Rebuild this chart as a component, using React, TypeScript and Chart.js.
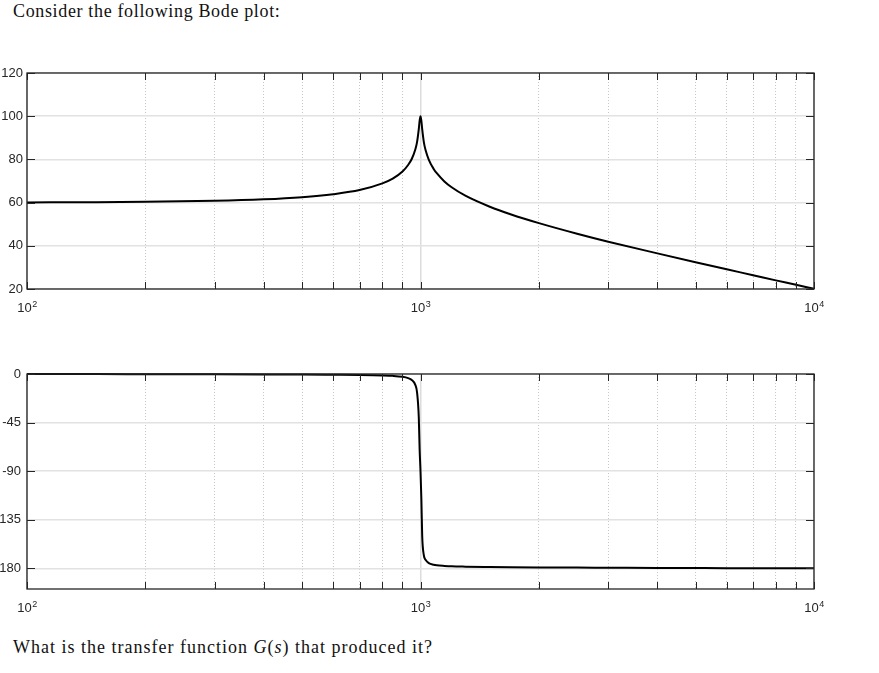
import { useEffect, useRef } from 'react'
import { Chart, registerables } from 'chart.js'

Chart.register(...registerables)

// frequency samples (rad/s)
const freqHz = [
  100, 150, 200, 300, 400, 500, 600, 700, 800, 850, 900, 930, 950, 970, 980, 990, 995, 1000, 1005, 1010,
  1020, 1030, 1050, 1080, 1100, 1150, 1200, 1300, 1500, 1700, 2000, 2500, 3000, 4000, 5000, 6000, 7000, 8000, 9000, 10000,
]
const magnitudeDb = [
  60.1, 60.2, 60.4, 60.8, 61.5, 62.5, 63.9, 65.8, 68.9, 71.1, 74.4, 77.4, 80.2, 84.6, 88.0, 94.0, 98.0, 100, 98.0, 94.0,
  87.9, 84.3, 79.8, 75.6, 73.6, 69.8, 67.1, 63.2, 58.1, 54.5, 50.5, 45.6, 41.9, 36.5, 32.4, 29.1, 26.4, 24.0, 22.0, 20.1,
]
const phaseDeg = [
  -0.1, -0.1, -0.2, -0.3, -0.4, -0.5, -0.7, -0.9, -1.3, -1.7, -2.6, -3.8, -5.5, -10, -17, -40, -70, -90, -115, -150,
  -168, -172, -175, -176.5, -177, -177.6, -178, -178.3, -178.6, -178.8, -179, -179.2, -179.3, -179.5, -179.6, -179.7, -179.7, -179.8, -179.8, -179.9,
]

const freqTicks = [100, 200, 300, 400, 500, 600, 700, 800, 900, 1000, 2000, 3000, 4000, 5000, 6000, 7000, 8000, 9000, 10000]
// decade labels: base 10 with these exponents
const decadeExponents: Record<number, string> = { 100: '2', 1000: '3', 10000: '4' }
const magTicks = [20, 40, 60, 80, 100, 120]
const phaseTicks = [-180, -135, -90, -45, 0]

const AXIS = '#262626'
const SANS = "'Liberation Sans', Arial, sans-serif"
const SERIF = "'Liberation Serif', 'Times New Roman', serif"

// box, inward tick marks and 10^n labels, matlab style
const framePlugin = {
  id: 'frame',
  afterDraw(chart: any) {
    const { ctx, chartArea, scales } = chart
    const { left, right, top, bottom } = chartArea
    ctx.save()
    ctx.strokeStyle = AXIS
    ctx.lineWidth = 1
    ctx.beginPath()
    scales.x.ticks.forEach((t: any) => {
      const px = Math.round(scales.x.getPixelForValue(t.value)) + 0.5
      ctx.moveTo(px, bottom)
      ctx.lineTo(px, bottom - 7)
      ctx.moveTo(px, top)
      ctx.lineTo(px, top + 7)
    })
    scales.y.ticks.forEach((t: any) => {
      const py = Math.round(scales.y.getPixelForValue(t.value)) + 0.5
      ctx.moveTo(left, py)
      ctx.lineTo(left + 8, py)
      ctx.moveTo(right, py)
      ctx.lineTo(right - 8, py)
    })
    ctx.stroke()
    ctx.lineWidth = 1.3
    ctx.strokeRect(left, top, right - left, bottom - top)

    ctx.fillStyle = AXIS
    ctx.textBaseline = 'alphabetic'
    ctx.textAlign = 'left'
    scales.x.ticks.forEach((t: any) => {
      const exp = decadeExponents[t.value]
      if (!exp) return
      const px = scales.x.getPixelForValue(t.value)
      ctx.font = `13px ${SANS}`
      const wBase = ctx.measureText('10').width
      ctx.font = `9px ${SANS}`
      const wExp = ctx.measureText(exp).width
      const x0 = px - (wBase + wExp) / 2
      ctx.font = `13px ${SANS}`
      ctx.fillText('10', x0, bottom + 22.5)
      ctx.font = `9px ${SANS}`
      ctx.fillText(exp, x0 + wBase + 0.5, bottom + 17.5)
    })
    ctx.restore()
  },
}

interface PanelProps {
  values: number[]
  yMin: number
  yMax: number
  yTicks: number[]
  padTop: number
  labelPad: number
  top: number
}

function BodePanel({ values, yMin, yMax, yTicks, padTop, labelPad, top }: PanelProps) {
  const canvasRef = useRef<HTMLCanvasElement | null>(null)

  useEffect(() => {
    if (!canvasRef.current) return
    const chart = new Chart(canvasRef.current, {
      type: 'line',
      data: {
        datasets: [
          {
            data: freqHz.map((f, i) => ({ x: f, y: values[i] })),
            borderColor: '#000000',
            borderWidth: 2,
            pointRadius: 0,
            cubicInterpolationMode: 'monotone',
            clip: 4,
          },
        ],
      },
      options: {
        animation: false,
        responsive: false,
        devicePixelRatio: window.devicePixelRatio || 1,
        layout: { padding: { top: padTop, right: 65, left: 0, bottom: 0 } },
        plugins: { legend: { display: false }, tooltip: { enabled: false } },
        scales: {
          x: {
            type: 'logarithmic',
            min: 100,
            max: 10000,
            afterBuildTicks: (s: any) => {
              s.ticks = freqTicks.map(v => ({ value: v, major: v in decadeExponents }))
            },
            afterFit: (s: any) => {
              s.height = 31
            },
            ticks: { display: false, autoSkip: false, maxRotation: 0, minRotation: 0 },
            grid: {
              drawTicks: false,
              color: (c: any) => (c.tick && c.tick.value in decadeExponents ? '#dcdcdc' : '#c8c8c8'),
              lineWidth: (c: any) => (c.tick && c.tick.value in decadeExponents ? 1.5 : 1),
            },
            border: {
              display: false,
              dash: (c: any) => (c.tick && c.tick.value in decadeExponents ? [] : [1, 2]),
            },
          },
          y: {
            min: yMin,
            max: yMax,
            afterBuildTicks: (s: any) => {
              s.ticks = yTicks.map(v => ({ value: v }))
            },
            afterFit: (s: any) => {
              s.width = 27
            },
            ticks: {
              padding: labelPad,
              color: AXIS,
              font: { family: SANS, size: 13 },
              callback: (v: any) => String(v),
            },
            grid: { drawTicks: false, color: '#e2e2e2', lineWidth: 1.5 },
            border: { display: false },
          },
        },
      },
      plugins: [framePlugin],
    })
    return () => chart.destroy()
  }, [])

  return (
    <div style={{ position: 'absolute', left: 0, top, width: 879, height: 260 }}>
      <canvas ref={canvasRef} width={879} height={260} style={{ width: 879, height: 260 }} />
    </div>
  )
}

export default function App() {
  return (
    <div style={{ position: 'absolute', left: 0, top: 0, width: 879, height: 673, background: '#fff' }}>
      <div
        style={{
          position: 'absolute', left: 13, top: 1, fontFamily: SERIF, fontSize: 18, letterSpacing: 0.65,
          color: '#111', whiteSpace: 'nowrap',
        }}
      >
        Consider the following Bode plot:
      </div>
      <BodePanel values={magnitudeDb} yMin={20} yMax={120} yTicks={magTicks} padTop={13} labelPad={4} top={60} />
      <BodePanel values={phaseDeg} yMin={-199} yMax={0} yTicks={phaseTicks} padTop={14} labelPad={6} top={360} />
      <div
        style={{
          position: 'absolute', left: 13, top: 637, fontFamily: SERIF, fontSize: 18, letterSpacing: 1,
          color: '#111', whiteSpace: 'nowrap',
        }}
      >
        What is the transfer function <i>G</i>(<i>s</i>) that produced it?
      </div>
    </div>
  )
}
